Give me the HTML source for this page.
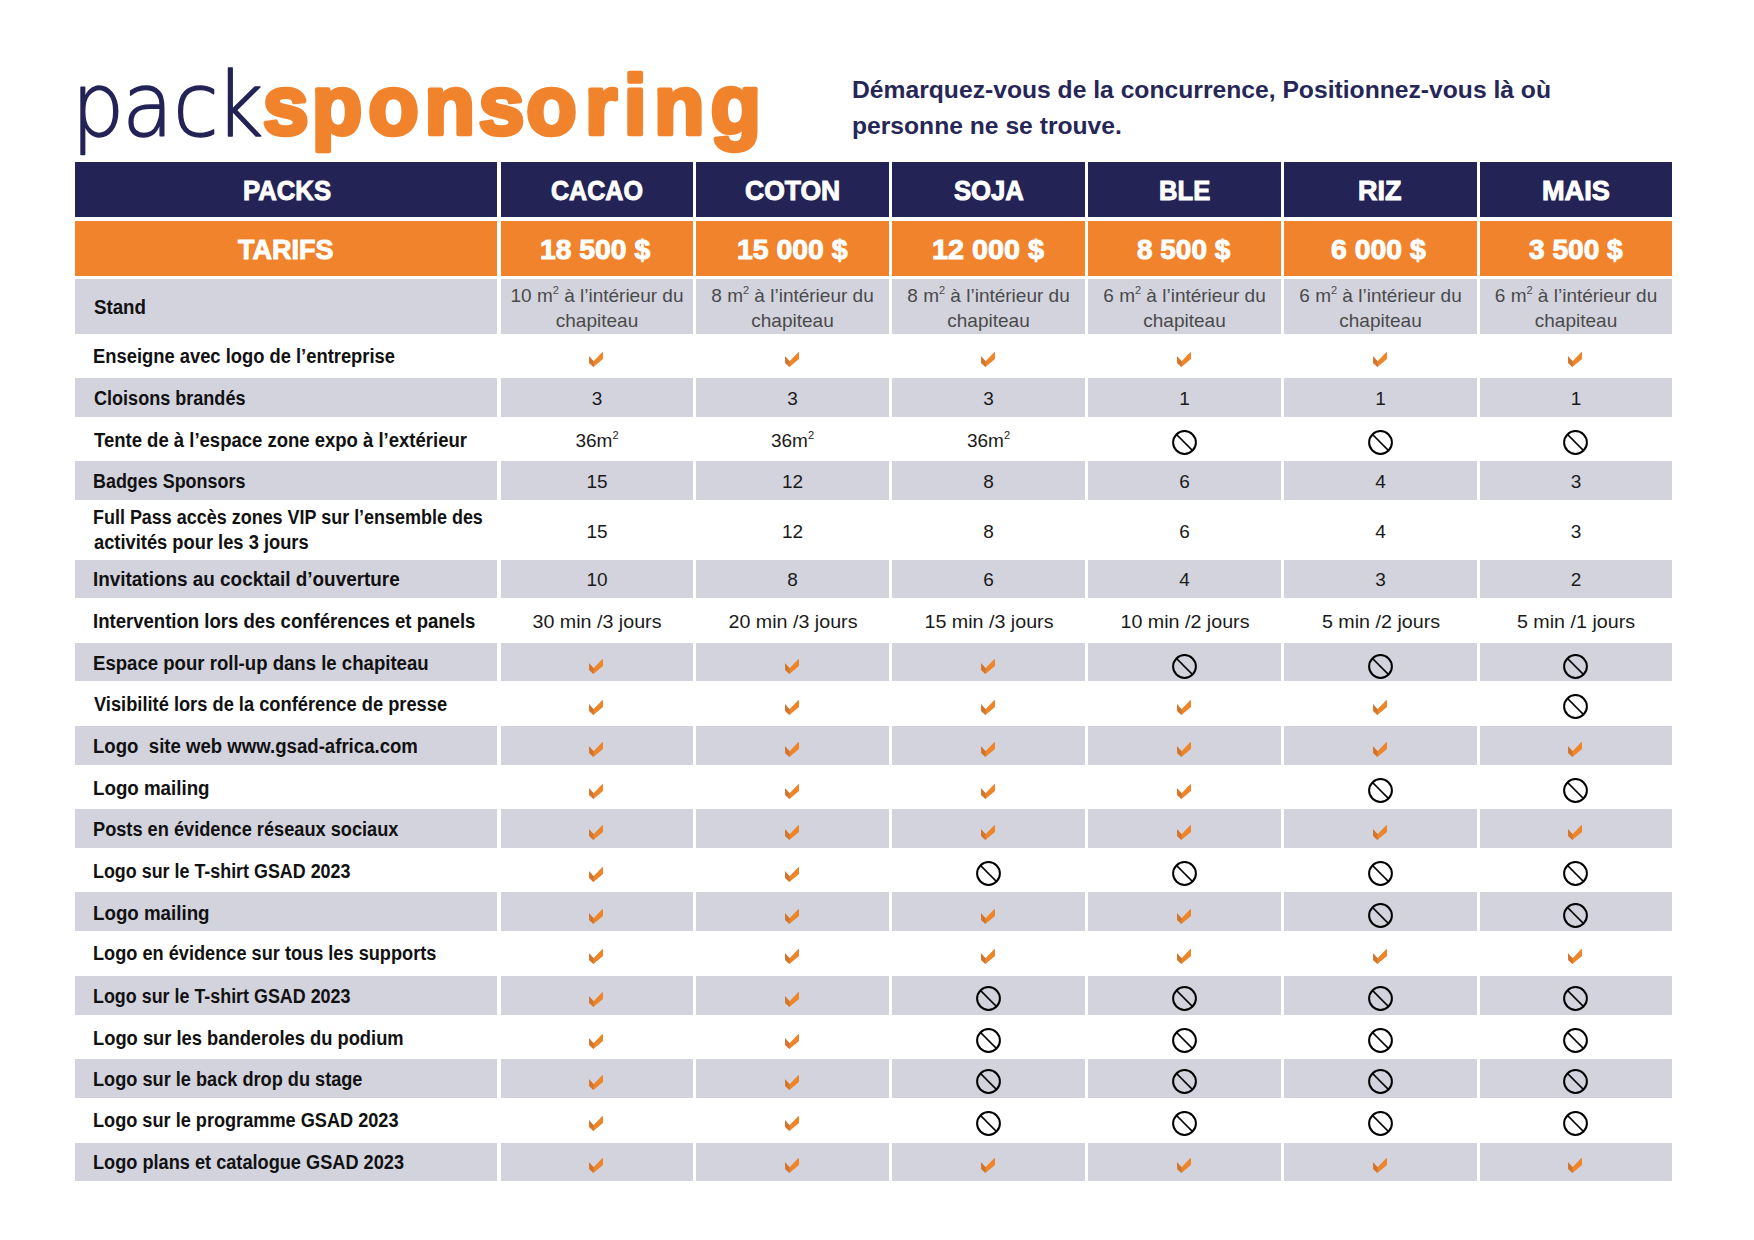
<!DOCTYPE html>
<html lang="fr"><head><meta charset="utf-8"><title>pack sponsoring</title>
<style>
html,body{margin:0;padding:0;background:#fff;}
body{width:1754px;height:1240px;position:relative;overflow:hidden;font-family:'Liberation Sans',Arial,sans-serif;}
.bg,.ic{position:absolute;}
.hd,.lb,.lt,.dt,.t1,.t2,.sub{position:absolute;white-space:pre;line-height:1;transform-origin:0 0;}
.c{text-align:center;transform-origin:50% 0;}
.hd{font-size:28px;font-weight:bold;color:#fff;-webkit-text-stroke:1.0px #fff;}
.lb{font-size:19.5px;font-weight:bold;color:#111;}
.lt{font-size:19px;color:#4a4a4a;}
.dt{font-size:19px;color:#1a1a1a;}
.dt sup,.lt sup{font-size:11px;vertical-align:0;position:relative;top:-8px;}
.ttl{position:absolute;left:0;top:0;}
.sub{font-weight:bold;font-size:23px;color:#262657;}
</style></head><body>
<svg class="ttl" width="1754" height="162" viewBox="0 0 1754 162">
<text x="76.94 131.37 186.02 231.56" y="136.05" transform="scale(0.9300,1)" font-family="DejaVu Sans" font-weight="200" font-size="89.5" fill="#242356" stroke="#242356" stroke-width="1.5" stroke-linejoin="round">pack</text>
<text x="266.75 316.39 373.95 430.90 485.73 534.30 593.89 633.17 663.95 721.24" y="134.45" transform="scale(0.9850,1)" font-family="Liberation Sans" font-weight="bold" font-size="84" fill="#f0832b" stroke="#f0832b" stroke-width="4.5" stroke-linejoin="round">sponsoring</text>
</svg>
<div class="sub" style="left:851.63px;top:79.03px;transform:scaleX(1.0724);">Démarquez-vous de la concurrence, Positionnez-vous là où</div>
<div class="sub" style="left:851.63px;top:114.53px;transform:scaleX(1.0717);">personne ne se trouve.</div>
<div class="bg" style="left:75px;top:162px;width:422px;height:55px;background:#242356"></div>
<div class="bg" style="left:501px;top:162px;width:192px;height:55px;background:#242356"></div>
<div class="bg" style="left:696px;top:162px;width:193px;height:55px;background:#242356"></div>
<div class="bg" style="left:892px;top:162px;width:193px;height:55px;background:#242356"></div>
<div class="bg" style="left:1088px;top:162px;width:193px;height:55px;background:#242356"></div>
<div class="bg" style="left:1284px;top:162px;width:193px;height:55px;background:#242356"></div>
<div class="bg" style="left:1480px;top:162px;width:192px;height:55px;background:#242356"></div>
<div class="hd" style="left:242.84px;top:176.80px;transform:scaleX(0.9175);">PACKS</div>
<div class="hd" style="left:550.85px;top:176.80px;transform:scaleX(0.8951);">CACAO</div>
<div class="hd" style="left:744.73px;top:176.80px;transform:scaleX(0.9469);">COTON</div>
<div class="hd" style="left:954.36px;top:176.80px;transform:scaleX(0.9166);">SOJA</div>
<div class="hd" style="left:1159.34px;top:176.80px;transform:scaleX(0.9146);">BLE</div>
<div class="hd" style="left:1358.22px;top:176.80px;transform:scaleX(0.9622);">RIZ</div>
<div class="hd" style="left:1541.82px;top:176.80px;transform:scaleX(0.9694);">MAIS</div>
<div class="bg" style="left:75px;top:221px;width:422px;height:55px;background:#f0832b"></div>
<div class="bg" style="left:501px;top:221px;width:192px;height:55px;background:#f0832b"></div>
<div class="bg" style="left:696px;top:221px;width:193px;height:55px;background:#f0832b"></div>
<div class="bg" style="left:892px;top:221px;width:193px;height:55px;background:#f0832b"></div>
<div class="bg" style="left:1088px;top:221px;width:193px;height:55px;background:#f0832b"></div>
<div class="bg" style="left:1284px;top:221px;width:193px;height:55px;background:#f0832b"></div>
<div class="bg" style="left:1480px;top:221px;width:192px;height:55px;background:#f0832b"></div>
<div class="hd" style="left:238.48px;top:235.80px;transform:scaleX(0.9643);">TARIFS</div>
<div class="hd" style="left:540.49px;top:235.80px;transform:scaleX(1.0108);">18 500 $</div>
<div class="hd" style="left:736.69px;top:235.80px;transform:scaleX(1.0144);">15 000 $</div>
<div class="hd" style="left:931.69px;top:235.80px;transform:scaleX(1.0272);">12 000 $</div>
<div class="hd" style="left:1137.20px;top:235.80px;transform:scaleX(0.9984);">8 500 $</div>
<div class="hd" style="left:1331.49px;top:235.80px;transform:scaleX(1.0133);">6 000 $</div>
<div class="hd" style="left:1528.60px;top:235.80px;transform:scaleX(1.0027);">3 500 $</div>
<div class="bg" style="left:75px;top:279px;width:422px;height:55px;background:#d3d3de"></div>
<div class="bg" style="left:501px;top:279px;width:192px;height:55px;background:#d3d3de"></div>
<div class="bg" style="left:696px;top:279px;width:193px;height:55px;background:#d3d3de"></div>
<div class="bg" style="left:892px;top:279px;width:193px;height:55px;background:#d3d3de"></div>
<div class="bg" style="left:1088px;top:279px;width:193px;height:55px;background:#d3d3de"></div>
<div class="bg" style="left:1284px;top:279px;width:193px;height:55px;background:#d3d3de"></div>
<div class="bg" style="left:1480px;top:279px;width:192px;height:55px;background:#d3d3de"></div>
<div class="lb" style="left:93.80px;top:297.79px;transform:scaleX(0.9595);">Stand</div>
<div class="lt c" style="left:447.00px;width:300px;top:285.92px;transform:scaleX(1.0000);">10 m<sup>2</sup> à l’intérieur du</div>
<div class="lt c" style="left:447.00px;width:300px;top:310.52px;transform:scaleX(1.0000);">chapiteau</div>
<div class="lt c" style="left:642.50px;width:300px;top:285.92px;transform:scaleX(1.0000);">8 m<sup>2</sup> à l’intérieur du</div>
<div class="lt c" style="left:642.50px;width:300px;top:310.52px;transform:scaleX(1.0000);">chapiteau</div>
<div class="lt c" style="left:838.50px;width:300px;top:285.92px;transform:scaleX(1.0000);">8 m<sup>2</sup> à l’intérieur du</div>
<div class="lt c" style="left:838.50px;width:300px;top:310.52px;transform:scaleX(1.0000);">chapiteau</div>
<div class="lt c" style="left:1034.50px;width:300px;top:285.92px;transform:scaleX(1.0000);">6 m<sup>2</sup> à l’intérieur du</div>
<div class="lt c" style="left:1034.50px;width:300px;top:310.52px;transform:scaleX(1.0000);">chapiteau</div>
<div class="lt c" style="left:1230.50px;width:300px;top:285.92px;transform:scaleX(1.0000);">6 m<sup>2</sup> à l’intérieur du</div>
<div class="lt c" style="left:1230.50px;width:300px;top:310.52px;transform:scaleX(1.0000);">chapiteau</div>
<div class="lt c" style="left:1426.00px;width:300px;top:285.92px;transform:scaleX(1.0000);">6 m<sup>2</sup> à l’intérieur du</div>
<div class="lt c" style="left:1426.00px;width:300px;top:310.52px;transform:scaleX(1.0000);">chapiteau</div>
<div class="lb" style="left:92.86px;top:347.39px;transform:scaleX(0.9414);">Enseigne avec logo de l’entreprise</div>
<svg class="ic" style="left:589.1px;top:352.3px" width="15" height="16" viewBox="0 0 15 16"><path d="M0.0 4.3 L4.6 9.2 L13.4 0.1 L14.0 0.6 L14.0 7.0 L4.4 15.0 L0.2 10.9 Z" fill="#ee8529"/><path d="M0.0 4.3 L4.6 9.2 L4.5 14.9 L0.2 10.9 Z" fill="#d07630"/></svg>
<svg class="ic" style="left:784.6px;top:352.3px" width="15" height="16" viewBox="0 0 15 16"><path d="M0.0 4.3 L4.6 9.2 L13.4 0.1 L14.0 0.6 L14.0 7.0 L4.4 15.0 L0.2 10.9 Z" fill="#ee8529"/><path d="M0.0 4.3 L4.6 9.2 L4.5 14.9 L0.2 10.9 Z" fill="#d07630"/></svg>
<svg class="ic" style="left:980.6px;top:352.3px" width="15" height="16" viewBox="0 0 15 16"><path d="M0.0 4.3 L4.6 9.2 L13.4 0.1 L14.0 0.6 L14.0 7.0 L4.4 15.0 L0.2 10.9 Z" fill="#ee8529"/><path d="M0.0 4.3 L4.6 9.2 L4.5 14.9 L0.2 10.9 Z" fill="#d07630"/></svg>
<svg class="ic" style="left:1176.6px;top:352.3px" width="15" height="16" viewBox="0 0 15 16"><path d="M0.0 4.3 L4.6 9.2 L13.4 0.1 L14.0 0.6 L14.0 7.0 L4.4 15.0 L0.2 10.9 Z" fill="#ee8529"/><path d="M0.0 4.3 L4.6 9.2 L4.5 14.9 L0.2 10.9 Z" fill="#d07630"/></svg>
<svg class="ic" style="left:1372.6px;top:352.3px" width="15" height="16" viewBox="0 0 15 16"><path d="M0.0 4.3 L4.6 9.2 L13.4 0.1 L14.0 0.6 L14.0 7.0 L4.4 15.0 L0.2 10.9 Z" fill="#ee8529"/><path d="M0.0 4.3 L4.6 9.2 L4.5 14.9 L0.2 10.9 Z" fill="#d07630"/></svg>
<svg class="ic" style="left:1568.1px;top:352.3px" width="15" height="16" viewBox="0 0 15 16"><path d="M0.0 4.3 L4.6 9.2 L13.4 0.1 L14.0 0.6 L14.0 7.0 L4.4 15.0 L0.2 10.9 Z" fill="#ee8529"/><path d="M0.0 4.3 L4.6 9.2 L4.5 14.9 L0.2 10.9 Z" fill="#d07630"/></svg>
<div class="bg" style="left:75px;top:378px;width:422px;height:39px;background:#d3d3de"></div>
<div class="bg" style="left:501px;top:378px;width:192px;height:39px;background:#d3d3de"></div>
<div class="bg" style="left:696px;top:378px;width:193px;height:39px;background:#d3d3de"></div>
<div class="bg" style="left:892px;top:378px;width:193px;height:39px;background:#d3d3de"></div>
<div class="bg" style="left:1088px;top:378px;width:193px;height:39px;background:#d3d3de"></div>
<div class="bg" style="left:1284px;top:378px;width:193px;height:39px;background:#d3d3de"></div>
<div class="bg" style="left:1480px;top:378px;width:192px;height:39px;background:#d3d3de"></div>
<div class="lb" style="left:93.80px;top:388.79px;transform:scaleX(0.9257);">Cloisons brandés</div>
<div class="dt c" style="left:447.00px;width:300px;top:388.72px;transform:scaleX(1.0000);">3</div>
<div class="dt c" style="left:642.50px;width:300px;top:388.72px;transform:scaleX(1.0000);">3</div>
<div class="dt c" style="left:838.50px;width:300px;top:388.72px;transform:scaleX(1.0000);">3</div>
<div class="dt c" style="left:1034.50px;width:300px;top:388.72px;transform:scaleX(1.0000);">1</div>
<div class="dt c" style="left:1230.50px;width:300px;top:388.72px;transform:scaleX(1.0000);">1</div>
<div class="dt c" style="left:1426.00px;width:300px;top:388.72px;transform:scaleX(1.0000);">1</div>
<div class="lb" style="left:93.80px;top:430.99px;transform:scaleX(0.9488);">Tente de à l’espace zone expo à l’extérieur</div>
<div class="dt c" style="left:447.00px;width:300px;top:430.92px;transform:scaleX(1.0000);">36m<sup>2</sup></div>
<div class="dt c" style="left:642.50px;width:300px;top:430.92px;transform:scaleX(1.0000);">36m<sup>2</sup></div>
<div class="dt c" style="left:838.50px;width:300px;top:430.92px;transform:scaleX(1.0000);">36m<sup>2</sup></div>
<svg class="ic" style="left:1170.8px;top:429.3px" width="27" height="27" viewBox="0 0 27 27"><circle cx="13.5" cy="13.5" r="11.4" fill="none" stroke="#000" stroke-width="2.0"/><line x1="5.4" y1="5.4" x2="21.6" y2="21.6" stroke="#000" stroke-width="1.5"/></svg>
<svg class="ic" style="left:1366.8px;top:429.3px" width="27" height="27" viewBox="0 0 27 27"><circle cx="13.5" cy="13.5" r="11.4" fill="none" stroke="#000" stroke-width="2.0"/><line x1="5.4" y1="5.4" x2="21.6" y2="21.6" stroke="#000" stroke-width="1.5"/></svg>
<svg class="ic" style="left:1562.3px;top:429.3px" width="27" height="27" viewBox="0 0 27 27"><circle cx="13.5" cy="13.5" r="11.4" fill="none" stroke="#000" stroke-width="2.0"/><line x1="5.4" y1="5.4" x2="21.6" y2="21.6" stroke="#000" stroke-width="1.5"/></svg>
<div class="bg" style="left:75px;top:461px;width:422px;height:39px;background:#d3d3de"></div>
<div class="bg" style="left:501px;top:461px;width:192px;height:39px;background:#d3d3de"></div>
<div class="bg" style="left:696px;top:461px;width:193px;height:39px;background:#d3d3de"></div>
<div class="bg" style="left:892px;top:461px;width:193px;height:39px;background:#d3d3de"></div>
<div class="bg" style="left:1088px;top:461px;width:193px;height:39px;background:#d3d3de"></div>
<div class="bg" style="left:1284px;top:461px;width:193px;height:39px;background:#d3d3de"></div>
<div class="bg" style="left:1480px;top:461px;width:192px;height:39px;background:#d3d3de"></div>
<div class="lb" style="left:92.88px;top:471.69px;transform:scaleX(0.9191);">Badges Sponsors</div>
<div class="dt c" style="left:447.00px;width:300px;top:471.62px;transform:scaleX(1.0000);">15</div>
<div class="dt c" style="left:642.50px;width:300px;top:471.62px;transform:scaleX(1.0000);">12</div>
<div class="dt c" style="left:838.50px;width:300px;top:471.62px;transform:scaleX(1.0000);">8</div>
<div class="dt c" style="left:1034.50px;width:300px;top:471.62px;transform:scaleX(1.0000);">6</div>
<div class="dt c" style="left:1230.50px;width:300px;top:471.62px;transform:scaleX(1.0000);">4</div>
<div class="dt c" style="left:1426.00px;width:300px;top:471.62px;transform:scaleX(1.0000);">3</div>
<div class="lb" style="left:92.88px;top:508.29px;transform:scaleX(0.9207);">Full Pass accès zones VIP sur l’ensemble des</div>
<div class="lb" style="left:93.80px;top:533.19px;transform:scaleX(0.9387);">activités pour les 3 jours</div>
<div class="dt c" style="left:447.00px;width:300px;top:521.82px;transform:scaleX(1.0000);">15</div>
<div class="dt c" style="left:642.50px;width:300px;top:521.82px;transform:scaleX(1.0000);">12</div>
<div class="dt c" style="left:838.50px;width:300px;top:521.82px;transform:scaleX(1.0000);">8</div>
<div class="dt c" style="left:1034.50px;width:300px;top:521.82px;transform:scaleX(1.0000);">6</div>
<div class="dt c" style="left:1230.50px;width:300px;top:521.82px;transform:scaleX(1.0000);">4</div>
<div class="dt c" style="left:1426.00px;width:300px;top:521.82px;transform:scaleX(1.0000);">3</div>
<div class="bg" style="left:75px;top:560px;width:422px;height:38px;background:#d3d3de"></div>
<div class="bg" style="left:501px;top:560px;width:192px;height:38px;background:#d3d3de"></div>
<div class="bg" style="left:696px;top:560px;width:193px;height:38px;background:#d3d3de"></div>
<div class="bg" style="left:892px;top:560px;width:193px;height:38px;background:#d3d3de"></div>
<div class="bg" style="left:1088px;top:560px;width:193px;height:38px;background:#d3d3de"></div>
<div class="bg" style="left:1284px;top:560px;width:193px;height:38px;background:#d3d3de"></div>
<div class="bg" style="left:1480px;top:560px;width:192px;height:38px;background:#d3d3de"></div>
<div class="lb" style="left:92.83px;top:570.39px;transform:scaleX(0.9694);">Invitations au cocktail d’ouverture</div>
<div class="dt c" style="left:447.00px;width:300px;top:570.32px;transform:scaleX(1.0000);">10</div>
<div class="dt c" style="left:642.50px;width:300px;top:570.32px;transform:scaleX(1.0000);">8</div>
<div class="dt c" style="left:838.50px;width:300px;top:570.32px;transform:scaleX(1.0000);">6</div>
<div class="dt c" style="left:1034.50px;width:300px;top:570.32px;transform:scaleX(1.0000);">4</div>
<div class="dt c" style="left:1230.50px;width:300px;top:570.32px;transform:scaleX(1.0000);">3</div>
<div class="dt c" style="left:1426.00px;width:300px;top:570.32px;transform:scaleX(1.0000);">2</div>
<div class="lb" style="left:92.85px;top:611.79px;transform:scaleX(0.9511);">Intervention lors des conférences et panels</div>
<div class="dt c" style="left:447.00px;width:300px;top:611.72px;transform:scaleX(1.0350);">30 min /3 jours</div>
<div class="dt c" style="left:642.50px;width:300px;top:611.72px;transform:scaleX(1.0350);">20 min /3 jours</div>
<div class="dt c" style="left:838.50px;width:300px;top:611.72px;transform:scaleX(1.0350);">15 min /3 jours</div>
<div class="dt c" style="left:1034.50px;width:300px;top:611.72px;transform:scaleX(1.0350);">10 min /2 jours</div>
<div class="dt c" style="left:1230.50px;width:300px;top:611.72px;transform:scaleX(1.0350);">5 min /2 jours</div>
<div class="dt c" style="left:1426.00px;width:300px;top:611.72px;transform:scaleX(1.0350);">5 min /1 jours</div>
<div class="bg" style="left:75px;top:643px;width:422px;height:38px;background:#d3d3de"></div>
<div class="bg" style="left:501px;top:643px;width:192px;height:38px;background:#d3d3de"></div>
<div class="bg" style="left:696px;top:643px;width:193px;height:38px;background:#d3d3de"></div>
<div class="bg" style="left:892px;top:643px;width:193px;height:38px;background:#d3d3de"></div>
<div class="bg" style="left:1088px;top:643px;width:193px;height:38px;background:#d3d3de"></div>
<div class="bg" style="left:1284px;top:643px;width:193px;height:38px;background:#d3d3de"></div>
<div class="bg" style="left:1480px;top:643px;width:192px;height:38px;background:#d3d3de"></div>
<div class="lb" style="left:92.85px;top:654.29px;transform:scaleX(0.9530);">Espace pour roll-up dans le chapiteau</div>
<svg class="ic" style="left:589.1px;top:659.2px" width="15" height="16" viewBox="0 0 15 16"><path d="M0.0 4.3 L4.6 9.2 L13.4 0.1 L14.0 0.6 L14.0 7.0 L4.4 15.0 L0.2 10.9 Z" fill="#ee8529"/><path d="M0.0 4.3 L4.6 9.2 L4.5 14.9 L0.2 10.9 Z" fill="#d07630"/></svg>
<svg class="ic" style="left:784.6px;top:659.2px" width="15" height="16" viewBox="0 0 15 16"><path d="M0.0 4.3 L4.6 9.2 L13.4 0.1 L14.0 0.6 L14.0 7.0 L4.4 15.0 L0.2 10.9 Z" fill="#ee8529"/><path d="M0.0 4.3 L4.6 9.2 L4.5 14.9 L0.2 10.9 Z" fill="#d07630"/></svg>
<svg class="ic" style="left:980.6px;top:659.2px" width="15" height="16" viewBox="0 0 15 16"><path d="M0.0 4.3 L4.6 9.2 L13.4 0.1 L14.0 0.6 L14.0 7.0 L4.4 15.0 L0.2 10.9 Z" fill="#ee8529"/><path d="M0.0 4.3 L4.6 9.2 L4.5 14.9 L0.2 10.9 Z" fill="#d07630"/></svg>
<svg class="ic" style="left:1170.8px;top:652.6px" width="27" height="27" viewBox="0 0 27 27"><circle cx="13.5" cy="13.5" r="11.4" fill="none" stroke="#000" stroke-width="2.0"/><line x1="5.4" y1="5.4" x2="21.6" y2="21.6" stroke="#000" stroke-width="1.5"/></svg>
<svg class="ic" style="left:1366.8px;top:652.6px" width="27" height="27" viewBox="0 0 27 27"><circle cx="13.5" cy="13.5" r="11.4" fill="none" stroke="#000" stroke-width="2.0"/><line x1="5.4" y1="5.4" x2="21.6" y2="21.6" stroke="#000" stroke-width="1.5"/></svg>
<svg class="ic" style="left:1562.3px;top:652.6px" width="27" height="27" viewBox="0 0 27 27"><circle cx="13.5" cy="13.5" r="11.4" fill="none" stroke="#000" stroke-width="2.0"/><line x1="5.4" y1="5.4" x2="21.6" y2="21.6" stroke="#000" stroke-width="1.5"/></svg>
<div class="lb" style="left:93.80px;top:694.99px;transform:scaleX(0.9370);">Visibilité lors de la conférence de presse</div>
<svg class="ic" style="left:589.1px;top:699.9px" width="15" height="16" viewBox="0 0 15 16"><path d="M0.0 4.3 L4.6 9.2 L13.4 0.1 L14.0 0.6 L14.0 7.0 L4.4 15.0 L0.2 10.9 Z" fill="#ee8529"/><path d="M0.0 4.3 L4.6 9.2 L4.5 14.9 L0.2 10.9 Z" fill="#d07630"/></svg>
<svg class="ic" style="left:784.6px;top:699.9px" width="15" height="16" viewBox="0 0 15 16"><path d="M0.0 4.3 L4.6 9.2 L13.4 0.1 L14.0 0.6 L14.0 7.0 L4.4 15.0 L0.2 10.9 Z" fill="#ee8529"/><path d="M0.0 4.3 L4.6 9.2 L4.5 14.9 L0.2 10.9 Z" fill="#d07630"/></svg>
<svg class="ic" style="left:980.6px;top:699.9px" width="15" height="16" viewBox="0 0 15 16"><path d="M0.0 4.3 L4.6 9.2 L13.4 0.1 L14.0 0.6 L14.0 7.0 L4.4 15.0 L0.2 10.9 Z" fill="#ee8529"/><path d="M0.0 4.3 L4.6 9.2 L4.5 14.9 L0.2 10.9 Z" fill="#d07630"/></svg>
<svg class="ic" style="left:1176.6px;top:699.9px" width="15" height="16" viewBox="0 0 15 16"><path d="M0.0 4.3 L4.6 9.2 L13.4 0.1 L14.0 0.6 L14.0 7.0 L4.4 15.0 L0.2 10.9 Z" fill="#ee8529"/><path d="M0.0 4.3 L4.6 9.2 L4.5 14.9 L0.2 10.9 Z" fill="#d07630"/></svg>
<svg class="ic" style="left:1372.6px;top:699.9px" width="15" height="16" viewBox="0 0 15 16"><path d="M0.0 4.3 L4.6 9.2 L13.4 0.1 L14.0 0.6 L14.0 7.0 L4.4 15.0 L0.2 10.9 Z" fill="#ee8529"/><path d="M0.0 4.3 L4.6 9.2 L4.5 14.9 L0.2 10.9 Z" fill="#d07630"/></svg>
<svg class="ic" style="left:1562.3px;top:693.3px" width="27" height="27" viewBox="0 0 27 27"><circle cx="13.5" cy="13.5" r="11.4" fill="none" stroke="#000" stroke-width="2.0"/><line x1="5.4" y1="5.4" x2="21.6" y2="21.6" stroke="#000" stroke-width="1.5"/></svg>
<div class="bg" style="left:75px;top:726px;width:422px;height:39px;background:#d3d3de"></div>
<div class="bg" style="left:501px;top:726px;width:192px;height:39px;background:#d3d3de"></div>
<div class="bg" style="left:696px;top:726px;width:193px;height:39px;background:#d3d3de"></div>
<div class="bg" style="left:892px;top:726px;width:193px;height:39px;background:#d3d3de"></div>
<div class="bg" style="left:1088px;top:726px;width:193px;height:39px;background:#d3d3de"></div>
<div class="bg" style="left:1284px;top:726px;width:193px;height:39px;background:#d3d3de"></div>
<div class="bg" style="left:1480px;top:726px;width:192px;height:39px;background:#d3d3de"></div>
<div class="lb" style="left:92.85px;top:737.09px;transform:scaleX(0.9539);">Logo  site web www.gsad-africa.com</div>
<svg class="ic" style="left:589.1px;top:742.0px" width="15" height="16" viewBox="0 0 15 16"><path d="M0.0 4.3 L4.6 9.2 L13.4 0.1 L14.0 0.6 L14.0 7.0 L4.4 15.0 L0.2 10.9 Z" fill="#ee8529"/><path d="M0.0 4.3 L4.6 9.2 L4.5 14.9 L0.2 10.9 Z" fill="#d07630"/></svg>
<svg class="ic" style="left:784.6px;top:742.0px" width="15" height="16" viewBox="0 0 15 16"><path d="M0.0 4.3 L4.6 9.2 L13.4 0.1 L14.0 0.6 L14.0 7.0 L4.4 15.0 L0.2 10.9 Z" fill="#ee8529"/><path d="M0.0 4.3 L4.6 9.2 L4.5 14.9 L0.2 10.9 Z" fill="#d07630"/></svg>
<svg class="ic" style="left:980.6px;top:742.0px" width="15" height="16" viewBox="0 0 15 16"><path d="M0.0 4.3 L4.6 9.2 L13.4 0.1 L14.0 0.6 L14.0 7.0 L4.4 15.0 L0.2 10.9 Z" fill="#ee8529"/><path d="M0.0 4.3 L4.6 9.2 L4.5 14.9 L0.2 10.9 Z" fill="#d07630"/></svg>
<svg class="ic" style="left:1176.6px;top:742.0px" width="15" height="16" viewBox="0 0 15 16"><path d="M0.0 4.3 L4.6 9.2 L13.4 0.1 L14.0 0.6 L14.0 7.0 L4.4 15.0 L0.2 10.9 Z" fill="#ee8529"/><path d="M0.0 4.3 L4.6 9.2 L4.5 14.9 L0.2 10.9 Z" fill="#d07630"/></svg>
<svg class="ic" style="left:1372.6px;top:742.0px" width="15" height="16" viewBox="0 0 15 16"><path d="M0.0 4.3 L4.6 9.2 L13.4 0.1 L14.0 0.6 L14.0 7.0 L4.4 15.0 L0.2 10.9 Z" fill="#ee8529"/><path d="M0.0 4.3 L4.6 9.2 L4.5 14.9 L0.2 10.9 Z" fill="#d07630"/></svg>
<svg class="ic" style="left:1568.1px;top:742.0px" width="15" height="16" viewBox="0 0 15 16"><path d="M0.0 4.3 L4.6 9.2 L13.4 0.1 L14.0 0.6 L14.0 7.0 L4.4 15.0 L0.2 10.9 Z" fill="#ee8529"/><path d="M0.0 4.3 L4.6 9.2 L4.5 14.9 L0.2 10.9 Z" fill="#d07630"/></svg>
<div class="lb" style="left:92.84px;top:778.99px;transform:scaleX(0.9605);">Logo mailing</div>
<svg class="ic" style="left:589.1px;top:783.9px" width="15" height="16" viewBox="0 0 15 16"><path d="M0.0 4.3 L4.6 9.2 L13.4 0.1 L14.0 0.6 L14.0 7.0 L4.4 15.0 L0.2 10.9 Z" fill="#ee8529"/><path d="M0.0 4.3 L4.6 9.2 L4.5 14.9 L0.2 10.9 Z" fill="#d07630"/></svg>
<svg class="ic" style="left:784.6px;top:783.9px" width="15" height="16" viewBox="0 0 15 16"><path d="M0.0 4.3 L4.6 9.2 L13.4 0.1 L14.0 0.6 L14.0 7.0 L4.4 15.0 L0.2 10.9 Z" fill="#ee8529"/><path d="M0.0 4.3 L4.6 9.2 L4.5 14.9 L0.2 10.9 Z" fill="#d07630"/></svg>
<svg class="ic" style="left:980.6px;top:783.9px" width="15" height="16" viewBox="0 0 15 16"><path d="M0.0 4.3 L4.6 9.2 L13.4 0.1 L14.0 0.6 L14.0 7.0 L4.4 15.0 L0.2 10.9 Z" fill="#ee8529"/><path d="M0.0 4.3 L4.6 9.2 L4.5 14.9 L0.2 10.9 Z" fill="#d07630"/></svg>
<svg class="ic" style="left:1176.6px;top:783.9px" width="15" height="16" viewBox="0 0 15 16"><path d="M0.0 4.3 L4.6 9.2 L13.4 0.1 L14.0 0.6 L14.0 7.0 L4.4 15.0 L0.2 10.9 Z" fill="#ee8529"/><path d="M0.0 4.3 L4.6 9.2 L4.5 14.9 L0.2 10.9 Z" fill="#d07630"/></svg>
<svg class="ic" style="left:1366.8px;top:777.3px" width="27" height="27" viewBox="0 0 27 27"><circle cx="13.5" cy="13.5" r="11.4" fill="none" stroke="#000" stroke-width="2.0"/><line x1="5.4" y1="5.4" x2="21.6" y2="21.6" stroke="#000" stroke-width="1.5"/></svg>
<svg class="ic" style="left:1562.3px;top:777.3px" width="27" height="27" viewBox="0 0 27 27"><circle cx="13.5" cy="13.5" r="11.4" fill="none" stroke="#000" stroke-width="2.0"/><line x1="5.4" y1="5.4" x2="21.6" y2="21.6" stroke="#000" stroke-width="1.5"/></svg>
<div class="bg" style="left:75px;top:809px;width:422px;height:39px;background:#d3d3de"></div>
<div class="bg" style="left:501px;top:809px;width:192px;height:39px;background:#d3d3de"></div>
<div class="bg" style="left:696px;top:809px;width:193px;height:39px;background:#d3d3de"></div>
<div class="bg" style="left:892px;top:809px;width:193px;height:39px;background:#d3d3de"></div>
<div class="bg" style="left:1088px;top:809px;width:193px;height:39px;background:#d3d3de"></div>
<div class="bg" style="left:1284px;top:809px;width:193px;height:39px;background:#d3d3de"></div>
<div class="bg" style="left:1480px;top:809px;width:192px;height:39px;background:#d3d3de"></div>
<div class="lb" style="left:92.87px;top:819.89px;transform:scaleX(0.9332);">Posts en évidence réseaux sociaux</div>
<svg class="ic" style="left:589.1px;top:824.8px" width="15" height="16" viewBox="0 0 15 16"><path d="M0.0 4.3 L4.6 9.2 L13.4 0.1 L14.0 0.6 L14.0 7.0 L4.4 15.0 L0.2 10.9 Z" fill="#ee8529"/><path d="M0.0 4.3 L4.6 9.2 L4.5 14.9 L0.2 10.9 Z" fill="#d07630"/></svg>
<svg class="ic" style="left:784.6px;top:824.8px" width="15" height="16" viewBox="0 0 15 16"><path d="M0.0 4.3 L4.6 9.2 L13.4 0.1 L14.0 0.6 L14.0 7.0 L4.4 15.0 L0.2 10.9 Z" fill="#ee8529"/><path d="M0.0 4.3 L4.6 9.2 L4.5 14.9 L0.2 10.9 Z" fill="#d07630"/></svg>
<svg class="ic" style="left:980.6px;top:824.8px" width="15" height="16" viewBox="0 0 15 16"><path d="M0.0 4.3 L4.6 9.2 L13.4 0.1 L14.0 0.6 L14.0 7.0 L4.4 15.0 L0.2 10.9 Z" fill="#ee8529"/><path d="M0.0 4.3 L4.6 9.2 L4.5 14.9 L0.2 10.9 Z" fill="#d07630"/></svg>
<svg class="ic" style="left:1176.6px;top:824.8px" width="15" height="16" viewBox="0 0 15 16"><path d="M0.0 4.3 L4.6 9.2 L13.4 0.1 L14.0 0.6 L14.0 7.0 L4.4 15.0 L0.2 10.9 Z" fill="#ee8529"/><path d="M0.0 4.3 L4.6 9.2 L4.5 14.9 L0.2 10.9 Z" fill="#d07630"/></svg>
<svg class="ic" style="left:1372.6px;top:824.8px" width="15" height="16" viewBox="0 0 15 16"><path d="M0.0 4.3 L4.6 9.2 L13.4 0.1 L14.0 0.6 L14.0 7.0 L4.4 15.0 L0.2 10.9 Z" fill="#ee8529"/><path d="M0.0 4.3 L4.6 9.2 L4.5 14.9 L0.2 10.9 Z" fill="#d07630"/></svg>
<svg class="ic" style="left:1568.1px;top:824.8px" width="15" height="16" viewBox="0 0 15 16"><path d="M0.0 4.3 L4.6 9.2 L13.4 0.1 L14.0 0.6 L14.0 7.0 L4.4 15.0 L0.2 10.9 Z" fill="#ee8529"/><path d="M0.0 4.3 L4.6 9.2 L4.5 14.9 L0.2 10.9 Z" fill="#d07630"/></svg>
<div class="lb" style="left:92.88px;top:861.69px;transform:scaleX(0.9174);">Logo sur le T-shirt GSAD 2023</div>
<svg class="ic" style="left:589.1px;top:866.6px" width="15" height="16" viewBox="0 0 15 16"><path d="M0.0 4.3 L4.6 9.2 L13.4 0.1 L14.0 0.6 L14.0 7.0 L4.4 15.0 L0.2 10.9 Z" fill="#ee8529"/><path d="M0.0 4.3 L4.6 9.2 L4.5 14.9 L0.2 10.9 Z" fill="#d07630"/></svg>
<svg class="ic" style="left:784.6px;top:866.6px" width="15" height="16" viewBox="0 0 15 16"><path d="M0.0 4.3 L4.6 9.2 L13.4 0.1 L14.0 0.6 L14.0 7.0 L4.4 15.0 L0.2 10.9 Z" fill="#ee8529"/><path d="M0.0 4.3 L4.6 9.2 L4.5 14.9 L0.2 10.9 Z" fill="#d07630"/></svg>
<svg class="ic" style="left:974.8px;top:860.0px" width="27" height="27" viewBox="0 0 27 27"><circle cx="13.5" cy="13.5" r="11.4" fill="none" stroke="#000" stroke-width="2.0"/><line x1="5.4" y1="5.4" x2="21.6" y2="21.6" stroke="#000" stroke-width="1.5"/></svg>
<svg class="ic" style="left:1170.8px;top:860.0px" width="27" height="27" viewBox="0 0 27 27"><circle cx="13.5" cy="13.5" r="11.4" fill="none" stroke="#000" stroke-width="2.0"/><line x1="5.4" y1="5.4" x2="21.6" y2="21.6" stroke="#000" stroke-width="1.5"/></svg>
<svg class="ic" style="left:1366.8px;top:860.0px" width="27" height="27" viewBox="0 0 27 27"><circle cx="13.5" cy="13.5" r="11.4" fill="none" stroke="#000" stroke-width="2.0"/><line x1="5.4" y1="5.4" x2="21.6" y2="21.6" stroke="#000" stroke-width="1.5"/></svg>
<svg class="ic" style="left:1562.3px;top:860.0px" width="27" height="27" viewBox="0 0 27 27"><circle cx="13.5" cy="13.5" r="11.4" fill="none" stroke="#000" stroke-width="2.0"/><line x1="5.4" y1="5.4" x2="21.6" y2="21.6" stroke="#000" stroke-width="1.5"/></svg>
<div class="bg" style="left:75px;top:892px;width:422px;height:39px;background:#d3d3de"></div>
<div class="bg" style="left:501px;top:892px;width:192px;height:39px;background:#d3d3de"></div>
<div class="bg" style="left:696px;top:892px;width:193px;height:39px;background:#d3d3de"></div>
<div class="bg" style="left:892px;top:892px;width:193px;height:39px;background:#d3d3de"></div>
<div class="bg" style="left:1088px;top:892px;width:193px;height:39px;background:#d3d3de"></div>
<div class="bg" style="left:1284px;top:892px;width:193px;height:39px;background:#d3d3de"></div>
<div class="bg" style="left:1480px;top:892px;width:192px;height:39px;background:#d3d3de"></div>
<div class="lb" style="left:92.84px;top:903.79px;transform:scaleX(0.9605);">Logo mailing</div>
<svg class="ic" style="left:589.1px;top:908.7px" width="15" height="16" viewBox="0 0 15 16"><path d="M0.0 4.3 L4.6 9.2 L13.4 0.1 L14.0 0.6 L14.0 7.0 L4.4 15.0 L0.2 10.9 Z" fill="#ee8529"/><path d="M0.0 4.3 L4.6 9.2 L4.5 14.9 L0.2 10.9 Z" fill="#d07630"/></svg>
<svg class="ic" style="left:784.6px;top:908.7px" width="15" height="16" viewBox="0 0 15 16"><path d="M0.0 4.3 L4.6 9.2 L13.4 0.1 L14.0 0.6 L14.0 7.0 L4.4 15.0 L0.2 10.9 Z" fill="#ee8529"/><path d="M0.0 4.3 L4.6 9.2 L4.5 14.9 L0.2 10.9 Z" fill="#d07630"/></svg>
<svg class="ic" style="left:980.6px;top:908.7px" width="15" height="16" viewBox="0 0 15 16"><path d="M0.0 4.3 L4.6 9.2 L13.4 0.1 L14.0 0.6 L14.0 7.0 L4.4 15.0 L0.2 10.9 Z" fill="#ee8529"/><path d="M0.0 4.3 L4.6 9.2 L4.5 14.9 L0.2 10.9 Z" fill="#d07630"/></svg>
<svg class="ic" style="left:1176.6px;top:908.7px" width="15" height="16" viewBox="0 0 15 16"><path d="M0.0 4.3 L4.6 9.2 L13.4 0.1 L14.0 0.6 L14.0 7.0 L4.4 15.0 L0.2 10.9 Z" fill="#ee8529"/><path d="M0.0 4.3 L4.6 9.2 L4.5 14.9 L0.2 10.9 Z" fill="#d07630"/></svg>
<svg class="ic" style="left:1366.8px;top:902.1px" width="27" height="27" viewBox="0 0 27 27"><circle cx="13.5" cy="13.5" r="11.4" fill="none" stroke="#000" stroke-width="2.0"/><line x1="5.4" y1="5.4" x2="21.6" y2="21.6" stroke="#000" stroke-width="1.5"/></svg>
<svg class="ic" style="left:1562.3px;top:902.1px" width="27" height="27" viewBox="0 0 27 27"><circle cx="13.5" cy="13.5" r="11.4" fill="none" stroke="#000" stroke-width="2.0"/><line x1="5.4" y1="5.4" x2="21.6" y2="21.6" stroke="#000" stroke-width="1.5"/></svg>
<div class="lb" style="left:92.87px;top:944.49px;transform:scaleX(0.9321);">Logo en évidence sur tous les supports</div>
<svg class="ic" style="left:589.1px;top:949.4px" width="15" height="16" viewBox="0 0 15 16"><path d="M0.0 4.3 L4.6 9.2 L13.4 0.1 L14.0 0.6 L14.0 7.0 L4.4 15.0 L0.2 10.9 Z" fill="#ee8529"/><path d="M0.0 4.3 L4.6 9.2 L4.5 14.9 L0.2 10.9 Z" fill="#d07630"/></svg>
<svg class="ic" style="left:784.6px;top:949.4px" width="15" height="16" viewBox="0 0 15 16"><path d="M0.0 4.3 L4.6 9.2 L13.4 0.1 L14.0 0.6 L14.0 7.0 L4.4 15.0 L0.2 10.9 Z" fill="#ee8529"/><path d="M0.0 4.3 L4.6 9.2 L4.5 14.9 L0.2 10.9 Z" fill="#d07630"/></svg>
<svg class="ic" style="left:980.6px;top:949.4px" width="15" height="16" viewBox="0 0 15 16"><path d="M0.0 4.3 L4.6 9.2 L13.4 0.1 L14.0 0.6 L14.0 7.0 L4.4 15.0 L0.2 10.9 Z" fill="#ee8529"/><path d="M0.0 4.3 L4.6 9.2 L4.5 14.9 L0.2 10.9 Z" fill="#d07630"/></svg>
<svg class="ic" style="left:1176.6px;top:949.4px" width="15" height="16" viewBox="0 0 15 16"><path d="M0.0 4.3 L4.6 9.2 L13.4 0.1 L14.0 0.6 L14.0 7.0 L4.4 15.0 L0.2 10.9 Z" fill="#ee8529"/><path d="M0.0 4.3 L4.6 9.2 L4.5 14.9 L0.2 10.9 Z" fill="#d07630"/></svg>
<svg class="ic" style="left:1372.6px;top:949.4px" width="15" height="16" viewBox="0 0 15 16"><path d="M0.0 4.3 L4.6 9.2 L13.4 0.1 L14.0 0.6 L14.0 7.0 L4.4 15.0 L0.2 10.9 Z" fill="#ee8529"/><path d="M0.0 4.3 L4.6 9.2 L4.5 14.9 L0.2 10.9 Z" fill="#d07630"/></svg>
<svg class="ic" style="left:1568.1px;top:949.4px" width="15" height="16" viewBox="0 0 15 16"><path d="M0.0 4.3 L4.6 9.2 L13.4 0.1 L14.0 0.6 L14.0 7.0 L4.4 15.0 L0.2 10.9 Z" fill="#ee8529"/><path d="M0.0 4.3 L4.6 9.2 L4.5 14.9 L0.2 10.9 Z" fill="#d07630"/></svg>
<div class="bg" style="left:75px;top:976px;width:422px;height:39px;background:#d3d3de"></div>
<div class="bg" style="left:501px;top:976px;width:192px;height:39px;background:#d3d3de"></div>
<div class="bg" style="left:696px;top:976px;width:193px;height:39px;background:#d3d3de"></div>
<div class="bg" style="left:892px;top:976px;width:193px;height:39px;background:#d3d3de"></div>
<div class="bg" style="left:1088px;top:976px;width:193px;height:39px;background:#d3d3de"></div>
<div class="bg" style="left:1284px;top:976px;width:193px;height:39px;background:#d3d3de"></div>
<div class="bg" style="left:1480px;top:976px;width:192px;height:39px;background:#d3d3de"></div>
<div class="lb" style="left:92.88px;top:986.59px;transform:scaleX(0.9174);">Logo sur le T-shirt GSAD 2023</div>
<svg class="ic" style="left:589.1px;top:991.5px" width="15" height="16" viewBox="0 0 15 16"><path d="M0.0 4.3 L4.6 9.2 L13.4 0.1 L14.0 0.6 L14.0 7.0 L4.4 15.0 L0.2 10.9 Z" fill="#ee8529"/><path d="M0.0 4.3 L4.6 9.2 L4.5 14.9 L0.2 10.9 Z" fill="#d07630"/></svg>
<svg class="ic" style="left:784.6px;top:991.5px" width="15" height="16" viewBox="0 0 15 16"><path d="M0.0 4.3 L4.6 9.2 L13.4 0.1 L14.0 0.6 L14.0 7.0 L4.4 15.0 L0.2 10.9 Z" fill="#ee8529"/><path d="M0.0 4.3 L4.6 9.2 L4.5 14.9 L0.2 10.9 Z" fill="#d07630"/></svg>
<svg class="ic" style="left:974.8px;top:984.9px" width="27" height="27" viewBox="0 0 27 27"><circle cx="13.5" cy="13.5" r="11.4" fill="none" stroke="#000" stroke-width="2.0"/><line x1="5.4" y1="5.4" x2="21.6" y2="21.6" stroke="#000" stroke-width="1.5"/></svg>
<svg class="ic" style="left:1170.8px;top:984.9px" width="27" height="27" viewBox="0 0 27 27"><circle cx="13.5" cy="13.5" r="11.4" fill="none" stroke="#000" stroke-width="2.0"/><line x1="5.4" y1="5.4" x2="21.6" y2="21.6" stroke="#000" stroke-width="1.5"/></svg>
<svg class="ic" style="left:1366.8px;top:984.9px" width="27" height="27" viewBox="0 0 27 27"><circle cx="13.5" cy="13.5" r="11.4" fill="none" stroke="#000" stroke-width="2.0"/><line x1="5.4" y1="5.4" x2="21.6" y2="21.6" stroke="#000" stroke-width="1.5"/></svg>
<svg class="ic" style="left:1562.3px;top:984.9px" width="27" height="27" viewBox="0 0 27 27"><circle cx="13.5" cy="13.5" r="11.4" fill="none" stroke="#000" stroke-width="2.0"/><line x1="5.4" y1="5.4" x2="21.6" y2="21.6" stroke="#000" stroke-width="1.5"/></svg>
<div class="lb" style="left:92.86px;top:1028.69px;transform:scaleX(0.9401);">Logo sur les banderoles du podium</div>
<svg class="ic" style="left:589.1px;top:1033.6px" width="15" height="16" viewBox="0 0 15 16"><path d="M0.0 4.3 L4.6 9.2 L13.4 0.1 L14.0 0.6 L14.0 7.0 L4.4 15.0 L0.2 10.9 Z" fill="#ee8529"/><path d="M0.0 4.3 L4.6 9.2 L4.5 14.9 L0.2 10.9 Z" fill="#d07630"/></svg>
<svg class="ic" style="left:784.6px;top:1033.6px" width="15" height="16" viewBox="0 0 15 16"><path d="M0.0 4.3 L4.6 9.2 L13.4 0.1 L14.0 0.6 L14.0 7.0 L4.4 15.0 L0.2 10.9 Z" fill="#ee8529"/><path d="M0.0 4.3 L4.6 9.2 L4.5 14.9 L0.2 10.9 Z" fill="#d07630"/></svg>
<svg class="ic" style="left:974.8px;top:1027.0px" width="27" height="27" viewBox="0 0 27 27"><circle cx="13.5" cy="13.5" r="11.4" fill="none" stroke="#000" stroke-width="2.0"/><line x1="5.4" y1="5.4" x2="21.6" y2="21.6" stroke="#000" stroke-width="1.5"/></svg>
<svg class="ic" style="left:1170.8px;top:1027.0px" width="27" height="27" viewBox="0 0 27 27"><circle cx="13.5" cy="13.5" r="11.4" fill="none" stroke="#000" stroke-width="2.0"/><line x1="5.4" y1="5.4" x2="21.6" y2="21.6" stroke="#000" stroke-width="1.5"/></svg>
<svg class="ic" style="left:1366.8px;top:1027.0px" width="27" height="27" viewBox="0 0 27 27"><circle cx="13.5" cy="13.5" r="11.4" fill="none" stroke="#000" stroke-width="2.0"/><line x1="5.4" y1="5.4" x2="21.6" y2="21.6" stroke="#000" stroke-width="1.5"/></svg>
<svg class="ic" style="left:1562.3px;top:1027.0px" width="27" height="27" viewBox="0 0 27 27"><circle cx="13.5" cy="13.5" r="11.4" fill="none" stroke="#000" stroke-width="2.0"/><line x1="5.4" y1="5.4" x2="21.6" y2="21.6" stroke="#000" stroke-width="1.5"/></svg>
<div class="bg" style="left:75px;top:1059px;width:422px;height:39px;background:#d3d3de"></div>
<div class="bg" style="left:501px;top:1059px;width:192px;height:39px;background:#d3d3de"></div>
<div class="bg" style="left:696px;top:1059px;width:193px;height:39px;background:#d3d3de"></div>
<div class="bg" style="left:892px;top:1059px;width:193px;height:39px;background:#d3d3de"></div>
<div class="bg" style="left:1088px;top:1059px;width:193px;height:39px;background:#d3d3de"></div>
<div class="bg" style="left:1284px;top:1059px;width:193px;height:39px;background:#d3d3de"></div>
<div class="bg" style="left:1480px;top:1059px;width:192px;height:39px;background:#d3d3de"></div>
<div class="lb" style="left:92.87px;top:1069.79px;transform:scaleX(0.9315);">Logo sur le back drop du stage</div>
<svg class="ic" style="left:589.1px;top:1074.7px" width="15" height="16" viewBox="0 0 15 16"><path d="M0.0 4.3 L4.6 9.2 L13.4 0.1 L14.0 0.6 L14.0 7.0 L4.4 15.0 L0.2 10.9 Z" fill="#ee8529"/><path d="M0.0 4.3 L4.6 9.2 L4.5 14.9 L0.2 10.9 Z" fill="#d07630"/></svg>
<svg class="ic" style="left:784.6px;top:1074.7px" width="15" height="16" viewBox="0 0 15 16"><path d="M0.0 4.3 L4.6 9.2 L13.4 0.1 L14.0 0.6 L14.0 7.0 L4.4 15.0 L0.2 10.9 Z" fill="#ee8529"/><path d="M0.0 4.3 L4.6 9.2 L4.5 14.9 L0.2 10.9 Z" fill="#d07630"/></svg>
<svg class="ic" style="left:974.8px;top:1068.1px" width="27" height="27" viewBox="0 0 27 27"><circle cx="13.5" cy="13.5" r="11.4" fill="none" stroke="#000" stroke-width="2.0"/><line x1="5.4" y1="5.4" x2="21.6" y2="21.6" stroke="#000" stroke-width="1.5"/></svg>
<svg class="ic" style="left:1170.8px;top:1068.1px" width="27" height="27" viewBox="0 0 27 27"><circle cx="13.5" cy="13.5" r="11.4" fill="none" stroke="#000" stroke-width="2.0"/><line x1="5.4" y1="5.4" x2="21.6" y2="21.6" stroke="#000" stroke-width="1.5"/></svg>
<svg class="ic" style="left:1366.8px;top:1068.1px" width="27" height="27" viewBox="0 0 27 27"><circle cx="13.5" cy="13.5" r="11.4" fill="none" stroke="#000" stroke-width="2.0"/><line x1="5.4" y1="5.4" x2="21.6" y2="21.6" stroke="#000" stroke-width="1.5"/></svg>
<svg class="ic" style="left:1562.3px;top:1068.1px" width="27" height="27" viewBox="0 0 27 27"><circle cx="13.5" cy="13.5" r="11.4" fill="none" stroke="#000" stroke-width="2.0"/><line x1="5.4" y1="5.4" x2="21.6" y2="21.6" stroke="#000" stroke-width="1.5"/></svg>
<div class="lb" style="left:92.87px;top:1111.19px;transform:scaleX(0.9304);">Logo sur le programme GSAD 2023</div>
<svg class="ic" style="left:589.1px;top:1116.1px" width="15" height="16" viewBox="0 0 15 16"><path d="M0.0 4.3 L4.6 9.2 L13.4 0.1 L14.0 0.6 L14.0 7.0 L4.4 15.0 L0.2 10.9 Z" fill="#ee8529"/><path d="M0.0 4.3 L4.6 9.2 L4.5 14.9 L0.2 10.9 Z" fill="#d07630"/></svg>
<svg class="ic" style="left:784.6px;top:1116.1px" width="15" height="16" viewBox="0 0 15 16"><path d="M0.0 4.3 L4.6 9.2 L13.4 0.1 L14.0 0.6 L14.0 7.0 L4.4 15.0 L0.2 10.9 Z" fill="#ee8529"/><path d="M0.0 4.3 L4.6 9.2 L4.5 14.9 L0.2 10.9 Z" fill="#d07630"/></svg>
<svg class="ic" style="left:974.8px;top:1109.5px" width="27" height="27" viewBox="0 0 27 27"><circle cx="13.5" cy="13.5" r="11.4" fill="none" stroke="#000" stroke-width="2.0"/><line x1="5.4" y1="5.4" x2="21.6" y2="21.6" stroke="#000" stroke-width="1.5"/></svg>
<svg class="ic" style="left:1170.8px;top:1109.5px" width="27" height="27" viewBox="0 0 27 27"><circle cx="13.5" cy="13.5" r="11.4" fill="none" stroke="#000" stroke-width="2.0"/><line x1="5.4" y1="5.4" x2="21.6" y2="21.6" stroke="#000" stroke-width="1.5"/></svg>
<svg class="ic" style="left:1366.8px;top:1109.5px" width="27" height="27" viewBox="0 0 27 27"><circle cx="13.5" cy="13.5" r="11.4" fill="none" stroke="#000" stroke-width="2.0"/><line x1="5.4" y1="5.4" x2="21.6" y2="21.6" stroke="#000" stroke-width="1.5"/></svg>
<svg class="ic" style="left:1562.3px;top:1109.5px" width="27" height="27" viewBox="0 0 27 27"><circle cx="13.5" cy="13.5" r="11.4" fill="none" stroke="#000" stroke-width="2.0"/><line x1="5.4" y1="5.4" x2="21.6" y2="21.6" stroke="#000" stroke-width="1.5"/></svg>
<div class="bg" style="left:75px;top:1143px;width:422px;height:38px;background:#d3d3de"></div>
<div class="bg" style="left:501px;top:1143px;width:192px;height:38px;background:#d3d3de"></div>
<div class="bg" style="left:696px;top:1143px;width:193px;height:38px;background:#d3d3de"></div>
<div class="bg" style="left:892px;top:1143px;width:193px;height:38px;background:#d3d3de"></div>
<div class="bg" style="left:1088px;top:1143px;width:193px;height:38px;background:#d3d3de"></div>
<div class="bg" style="left:1284px;top:1143px;width:193px;height:38px;background:#d3d3de"></div>
<div class="bg" style="left:1480px;top:1143px;width:192px;height:38px;background:#d3d3de"></div>
<div class="lb" style="left:92.87px;top:1153.29px;transform:scaleX(0.9318);">Logo plans et catalogue GSAD 2023</div>
<svg class="ic" style="left:589.1px;top:1158.2px" width="15" height="16" viewBox="0 0 15 16"><path d="M0.0 4.3 L4.6 9.2 L13.4 0.1 L14.0 0.6 L14.0 7.0 L4.4 15.0 L0.2 10.9 Z" fill="#ee8529"/><path d="M0.0 4.3 L4.6 9.2 L4.5 14.9 L0.2 10.9 Z" fill="#d07630"/></svg>
<svg class="ic" style="left:784.6px;top:1158.2px" width="15" height="16" viewBox="0 0 15 16"><path d="M0.0 4.3 L4.6 9.2 L13.4 0.1 L14.0 0.6 L14.0 7.0 L4.4 15.0 L0.2 10.9 Z" fill="#ee8529"/><path d="M0.0 4.3 L4.6 9.2 L4.5 14.9 L0.2 10.9 Z" fill="#d07630"/></svg>
<svg class="ic" style="left:980.6px;top:1158.2px" width="15" height="16" viewBox="0 0 15 16"><path d="M0.0 4.3 L4.6 9.2 L13.4 0.1 L14.0 0.6 L14.0 7.0 L4.4 15.0 L0.2 10.9 Z" fill="#ee8529"/><path d="M0.0 4.3 L4.6 9.2 L4.5 14.9 L0.2 10.9 Z" fill="#d07630"/></svg>
<svg class="ic" style="left:1176.6px;top:1158.2px" width="15" height="16" viewBox="0 0 15 16"><path d="M0.0 4.3 L4.6 9.2 L13.4 0.1 L14.0 0.6 L14.0 7.0 L4.4 15.0 L0.2 10.9 Z" fill="#ee8529"/><path d="M0.0 4.3 L4.6 9.2 L4.5 14.9 L0.2 10.9 Z" fill="#d07630"/></svg>
<svg class="ic" style="left:1372.6px;top:1158.2px" width="15" height="16" viewBox="0 0 15 16"><path d="M0.0 4.3 L4.6 9.2 L13.4 0.1 L14.0 0.6 L14.0 7.0 L4.4 15.0 L0.2 10.9 Z" fill="#ee8529"/><path d="M0.0 4.3 L4.6 9.2 L4.5 14.9 L0.2 10.9 Z" fill="#d07630"/></svg>
<svg class="ic" style="left:1568.1px;top:1158.2px" width="15" height="16" viewBox="0 0 15 16"><path d="M0.0 4.3 L4.6 9.2 L13.4 0.1 L14.0 0.6 L14.0 7.0 L4.4 15.0 L0.2 10.9 Z" fill="#ee8529"/><path d="M0.0 4.3 L4.6 9.2 L4.5 14.9 L0.2 10.9 Z" fill="#d07630"/></svg>
</body></html>
